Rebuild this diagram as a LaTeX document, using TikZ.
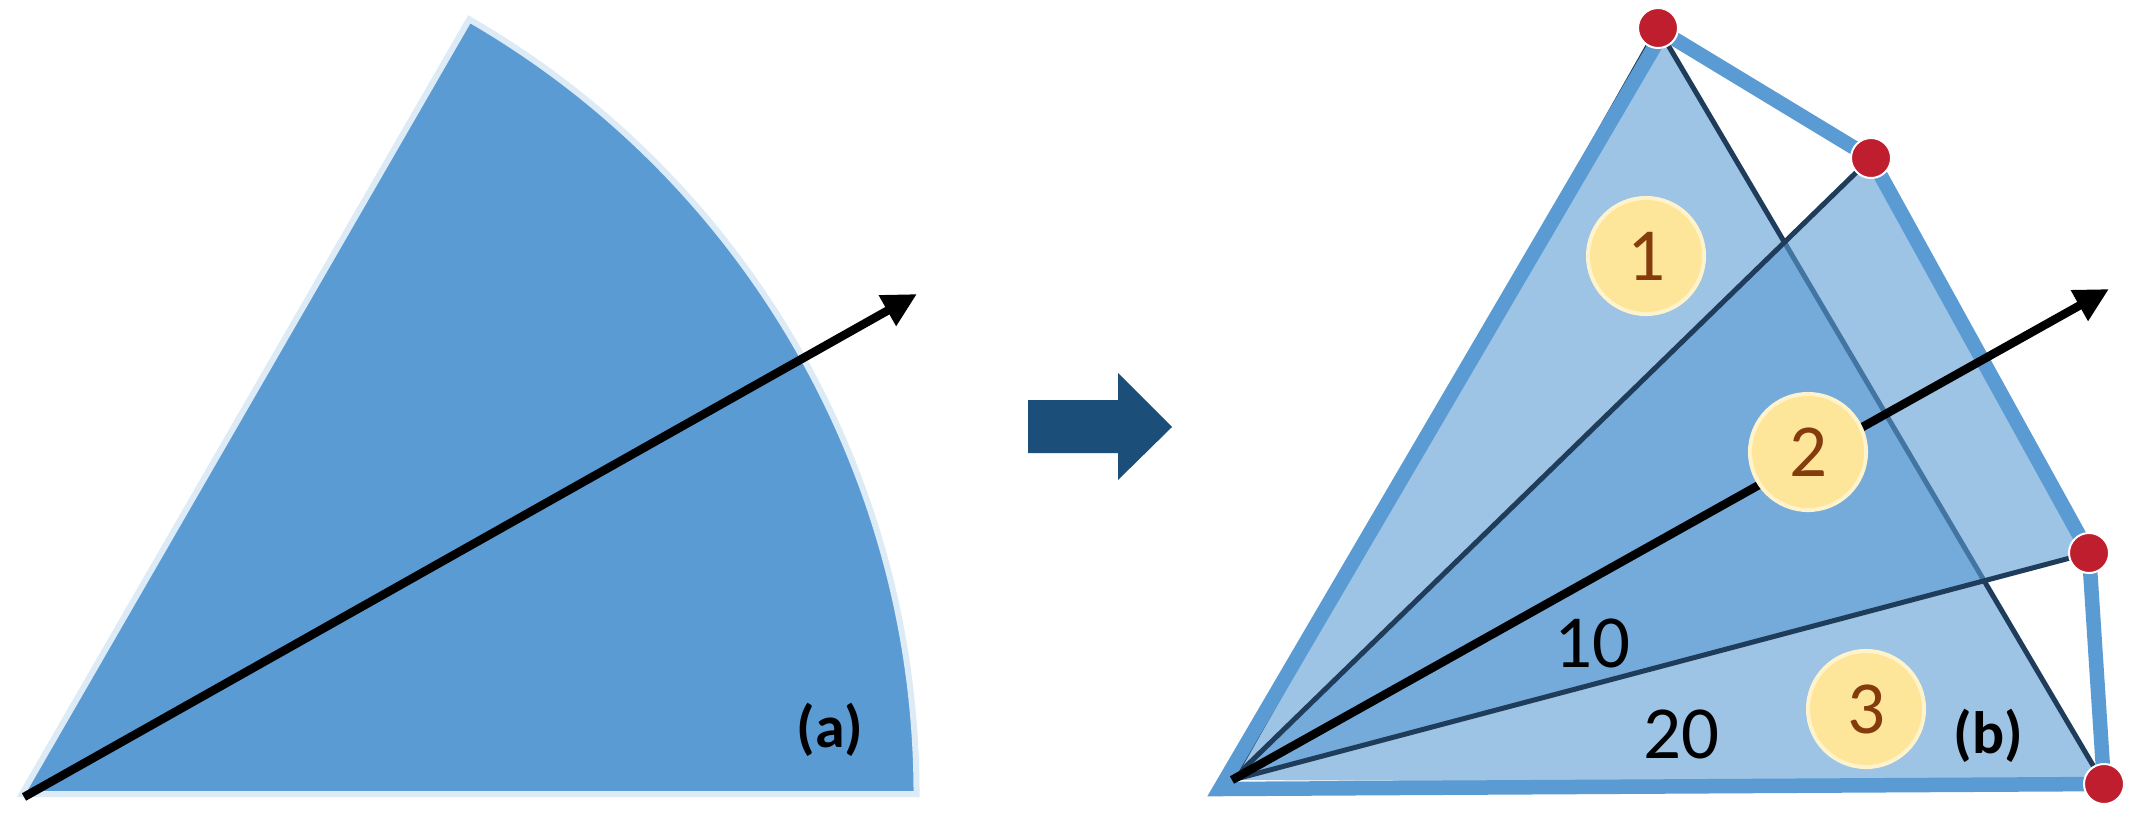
\documentclass[tikz,border=0pt]{standalone}
\usepackage{fontspec}
\setmainfont{Carlito}[Numbers=Lining]
\usetikzlibrary{arrows.meta}
\definecolor{sectorblue}{HTML}{5B9BD3}
\definecolor{sectoredge}{HTML}{DDEBF7}
\definecolor{darkline}{HTML}{1F3D5A}
\definecolor{bigarrow}{HTML}{1B4F7A}
\definecolor{dotred}{HTML}{BE1E2D}
\definecolor{circfill}{HTML}{FDE59A}
\definecolor{circedge}{HTML}{FFF3CC}
\definecolor{numbrown}{HTML}{843C0C}
\begin{document}
\begin{tikzpicture}[x=0.01cm,y=-0.01cm,
  thinline/.style={draw=darkline,line width=0.5mm},
  band/.style={draw=sectorblue,line width=1.45mm,line join=miter},
  tri/.style={fill=sectorblue,fill opacity=0.6},
  ray/.style={draw=black,line width=0.85mm,-{Triangle[length=3.4mm,width=3.3mm]}},
  reddot/.style={circle,fill=dotred,draw=white,line width=0.2mm,minimum width=3.8mm,minimum height=4mm,inner sep=0pt},
  numcirc/.style={circle,fill=circfill,draw=circedge,line width=0.4mm,minimum size=1.16cm,inner sep=0pt,text=numbrown,font=\fontsize{21.3}{24}\selectfont},
  numlabel/.style={inner sep=0pt,text=black,font=\fontsize{21.3}{24}\selectfont},
  panellabel/.style={inner sep=0pt,text=black,font=\fontsize{17}{20}\selectfont\bfseries}]
\useasboundingbox (0,0) rectangle (2148,827);

% ---------- panel (a) ----------
\coordinate (C) at (22,794);
\coordinate (Astart) at (24,797);
\coordinate (Atip) at (917,294);
\filldraw[fill=sectorblue,draw=sectoredge,line width=0.6mm,line join=miter]
  (C) -- ++(8.94cm,0) arc[start angle=0,end angle=60,radius=8.94cm] -- cycle;
\draw[ray] (Astart) -- (Atip);
\node[panellabel] (la) at (830,730) {(a)};

% ---------- middle arrow ----------
\fill[bigarrow] (1028,400) -- (1118,400) -- (1118,373) -- (1172,427)
  -- (1118,480) -- (1118,453) -- (1028,453) -- cycle;

% ---------- panel (b) ----------
\coordinate (O) at (1232,780);
\coordinate (P1) at (1658,28);
\coordinate (P2) at (1871,158);
\coordinate (P3) at (2089,553);
\coordinate (P4) at (2104,784);
\coordinate (BL) at (1220,789);
\coordinate (P1b) at (1663,32);
\coordinate (Bstart) at (1232,780);
\coordinate (Btip) at (2109,289);

\fill[tri] (O) -- (P1) -- (P4) -- cycle;
\draw[thinline] (P1) -- (P4);
\draw[thinline] (O) -- (P1);
\fill[tri] (O) -- (P2) -- (P3) -- cycle;
\draw[thinline] (O) -- (P2);
\draw[thinline] (O) -- (P3);

\draw[band] (BL) -- (P1b) -- (P2) -- (P3) -- (P4) -- cycle;

\draw[ray] (Bstart) -- (Btip);

\node[numcirc] (c1) at (1646,256) {1};
\node[numcirc] (c2) at (1808,452) {2};
\node[numcirc] (c3) at (1866,709) {3};

\node[reddot] (d1) at (P1) {};
\node[reddot] (d2) at (P2) {};
\node[reddot] (d3) at (P3) {};
\node[reddot] (d4) at (P4) {};

\node[numlabel] (l10) at (1592,643) {10};
\node[numlabel] (l20) at (1681,734) {20};
\node[panellabel] (lb) at (1988,736) {(b)};
\end{tikzpicture}
\end{document}
